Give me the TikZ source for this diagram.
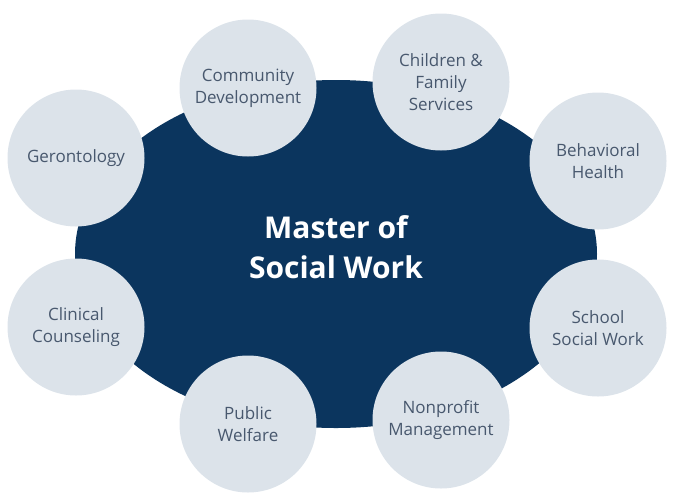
\documentclass[tikz,border=0pt]{standalone}
\usepackage{fontspec}
\setmainfont{Open Sans}
\usepackage{tikz}
\definecolor{Navy}{RGB}{11,53,94}
\definecolor{Mist}{RGB}{220,227,234}
\definecolor{Slate}{RGB}{72,88,110}
\tikzset{ hub/.style  ={text=white, font=\fontsize{30}{40}\selectfont\bfseries, align=center} }
\tikzset{ area/.style ={fill=Mist, draw=none, circle, minimum size=137pt, inner sep=0pt, text=Slate, font=\fontsize{17}{22}\selectfont, align=center} }

\begin{document}
\begin{tikzpicture}[x=1pt,y=-1pt]
    \useasboundingbox (0,0) rectangle (677,499);

    \fill[Navy] (336,254) ellipse [x radius=261, y radius=174];
    \node[hub] (hub) at (336,247) {Master of\\Social Work};

    \node[area] (sp_n0) at ( 76,158) {Gerontology};
    \node[area] (sp_n1) at (248, 88) {Community\\Development};
    \node[area] (sp_n2) at (441, 82) {Children \&\\Family\\Services};
    \node[area] (sp_n3) at (598,161) {Behavioral\\Health};

    \node[area] (sp_n4) at (598,328) {School\\Social Work};
    \node[area] (sp_n5) at (441,420) {Nonprofit\\Management};
    \node[area] (sp_n6) at (248,424) {Public\\Welfare};
    \node[area] (sp_n7) at ( 76,327) {Clinical\\Counseling};
  \end{tikzpicture}
\end{document}
